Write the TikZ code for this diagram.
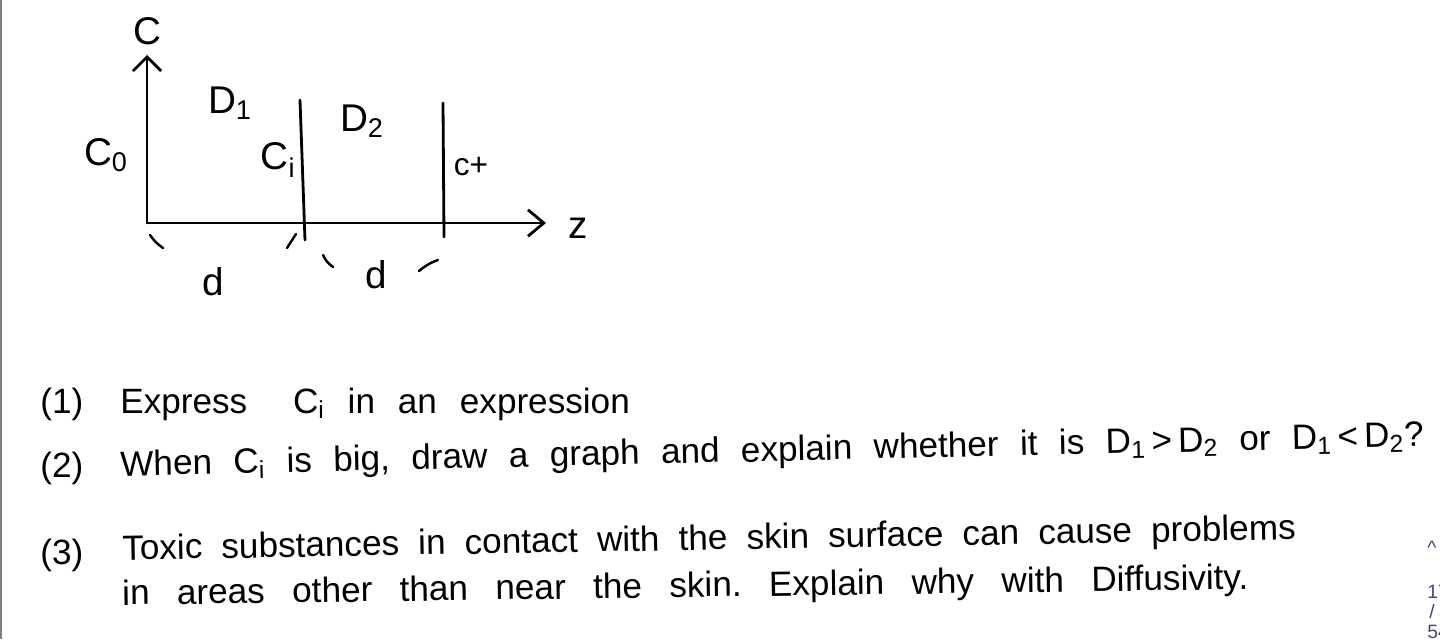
\documentclass[tikz,border=0pt]{standalone}
\usepackage{fontspec}
\setmainfont{Liberation Sans}
\usetikzlibrary{arrows.meta}
\frenchspacing
\begin{document}
\begin{tikzpicture}[x=0.02cm,y=-0.02cm,
  ax/.style={line width=1.6pt,line cap=round},
  tick/.style={line width=1.4pt,line cap=round},
  lbl/.style={inner sep=0,font=\fontsize{22}{26}\selectfont},
  txt/.style={inner sep=0,anchor=west,font=\fontsize{20}{24}\selectfont},
  ui/.style={inner sep=0,anchor=west,text=black!55!blue!45!gray,font=\fontsize{11}{13}\selectfont}]
\useasboundingbox[fill=white] (0,0) rectangle (1440,639);
\draw[black!50,line width=1pt] (1,0) -- (1,639);
% axes
\coordinate (O) at (147,223);
\coordinate (Ctop) at (147,55);
\coordinate (Zend) at (546,223);
\draw[ax,-{Straight Barb[length=8pt,width=16pt,line width=1.6pt]}] (O) -- (Ctop);
\draw[ax,-{Straight Barb[length=9pt,width=15pt,line width=1.6pt]}] (O) -- (Zend);
% interfaces
\coordinate (L1t) at (300,100);
\coordinate (L1b) at (305,240);
\coordinate (L2t) at (443,103);
\coordinate (L2b) at (444,237);
\draw[ax] (L1t) -- (L1b);
\draw[ax] (L2t) -- (L2b);
% labels
\node[lbl] (lc) at (147,31) {C};
\node[lbl] (ld1) at (230,103) {D\textsubscript{1}};
\node[lbl] (ld2) at (362,121) {D\textsubscript{2}};
\node[lbl] (lc0) at (106,155) {C\textsubscript{0}};
\node[lbl] (lci) at (278,160) {C\textsubscript{i}};
\node[lbl,font=\fontsize{18}{22}\selectfont] (lct) at (471,167) {c+};
\node[lbl] (lz) at (578,228) {z};
% d marks
\coordinate (b1a) at (150,235);
\coordinate (b1b) at (163,248);
\coordinate (b2a) at (287,248);
\coordinate (b2b) at (296,234);
\coordinate (b3a) at (323,255);
\coordinate (b3b) at (333,267);
\coordinate (b4a) at (419,271);
\coordinate (b4b) at (438,260);
\draw[tick] (b1a) to[bend right=10] (b1b);
\draw[tick] (b2a) -- (b2b);
\draw[tick] (b3a) to[bend right=15] (b3b);
\draw[tick] (b4a) to[bend left=10] (b4b);
\node[lbl] (ld) at (213,282) {d};
\node[lbl] (ldd) at (376,275) {d};
% questions
\node[txt] (n1) at (40,404) {(1)};
\node[txt] (q1) at (120,404) {\makebox[290pt][s]{Express\ \ C\textsubscript{i} in an expression}};
\node[txt] (n2) at (40,468) {(2)};
\node[txt,rotate=1.3] (q2) at (120,467) {\makebox[742pt][s]{When C\textsubscript{i} is big, draw a graph and explain whether it is D\textsubscript{1}\,>\,D\textsubscript{2} or D\textsubscript{1}\,<\,D\textsubscript{2}?}};
\node[txt] (n3) at (40,555) {(3)};
\node[txt,rotate=1] (q3) at (122,551) {\makebox[668pt][s]{Toxic substances in contact with the skin surface can cause problems}};
\node[txt,rotate=0.8] (q4) at (122,596) {\makebox[641pt][s]{in areas other than near the skin. Explain why with Diffusivity.}};
% viewer UI remnants
\node[ui] (u1) at (1427,548) {\textasciicircum};
\node[ui] (u2) at (1427,592) {17};
\node[ui] (u3) at (1429,612) {/};
\node[ui] (u4) at (1427,632) {54};
\end{tikzpicture}
\end{document}
